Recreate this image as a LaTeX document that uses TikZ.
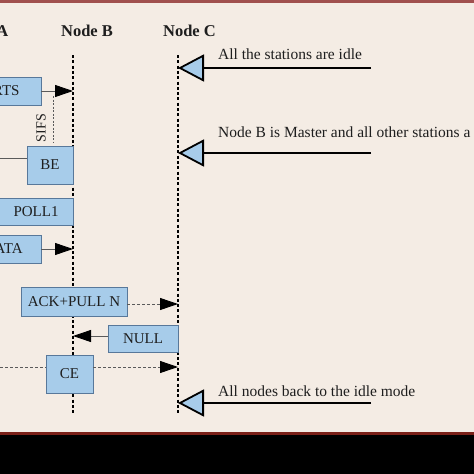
\documentclass[tikz,border=0pt]{standalone}
\usepackage{fontspec}
\setmainfont{Liberation Serif}
\usetikzlibrary{arrows.meta}
\definecolor{bgbeige}{HTML}{F4ECE4}
\definecolor{topband}{HTML}{A0504E}
\definecolor{botred}{HTML}{7A2018}
\definecolor{boxfill}{HTML}{A7CCEA}
\definecolor{boxline}{HTML}{58789A}
\definecolor{msggray}{HTML}{5A5A5A}
\definecolor{txt}{HTML}{1E1E1E}
\tikzset{
  msgbox/.style={draw=boxline, line width=0.9pt, fill=boxfill, inner sep=0pt,
    text=txt, font=\fontsize{15}{15}\selectfont},
  lifeline/.style={draw=black, line width=1.7pt, dash pattern=on 3pt off 2.3pt},
  msgline/.style={draw=msggray, line width=0.9pt},
  msgdash/.style={draw=msggray, line width=0.9pt, dash pattern=on 3pt off 2pt},
  blackhead/.style={-{Triangle[length=18pt,width=12pt,fill=black,color=black]}},
  bigarrow/.style={draw=black, line width=2pt,
    -{Triangle[length=26pt,width=27pt,fill=boxfill,color=black,line width=1.8pt]}},
  header/.style={font=\bfseries\fontsize{16.5}{16.5}\selectfont, text=txt, inner sep=0pt},
  note/.style={font=\fontsize{15.5}{15.5}\selectfont, text=txt, inner sep=0pt, anchor=base west},
}
\begin{document}
\begin{tikzpicture}[x=1pt,y=-1pt]
\useasboundingbox (0,0) rectangle (474,474);
\clip (0,0) rectangle (474,474);
% background
\fill[bgbeige] (0,0) rectangle (474,434);
\fill[topband] (0,0) rectangle (474,2.5);
\fill[botred] (0,432) rectangle (474,434.5);
\fill[black] (0,434.5) rectangle (474,474);

% headers
\node[header, anchor=base east] (hA) at (8.5,36) {Node A};
\node[header, anchor=base] (hB) at (87,36) {Node B};
\node[header, anchor=base] (hC) at (189.5,36) {Node C};

% lifelines
\coordinate (Btop) at (73,55);
\coordinate (Bbot) at (73,415);
\coordinate (Ctop) at (178,55);
\coordinate (Cbot) at (178,415);
\draw[lifeline] (Btop) -- (Bbot);
\draw[lifeline] (Ctop) -- (Cbot);

% boxes
\node[msgbox, minimum width=69.5pt, minimum height=28pt] (RTS) at (6.25,91) {RTS};
\node[msgbox, minimum width=46pt, minimum height=38pt] (BE) at (50,165) {BE};
\node[msgbox, minimum width=74pt, minimum height=27pt] (POLL) at (36,211.5) {POLL1};
\node[msgbox, minimum width=75.6pt, minimum height=28pt] (DATA) at (3.2,249) {DATA};
\node[msgbox, minimum width=106pt, minimum height=29pt] (ACK) at (74,301.5) {ACK+PULL N};
\node[msgbox, minimum width=70pt, minimum height=27pt] (NULL) at (143,338.5) {NULL};
\node[msgbox, minimum width=47pt, minimum height=38pt] (CE) at (69.5,374) {CE};

% messages
\draw[msgline, blackhead] (RTS.east) -- (RTS.east -| Btop);
\coordinate (sifsTop) at (53,96);
\coordinate (sifsBot) at (53,142);
\draw[msggray, line width=0.7pt, dash pattern=on 2pt off 1.5pt] (sifsTop) -- (sifsBot);
\node[font=\fontsize{14}{14}\selectfont, text=txt, rotate=90, inner sep=0pt] (sifs) at (41,128) {SIFS};
\coordinate (beL) at (0,158);
\draw[msgline] (beL) -- (beL -| BE.west);
\draw[msgline, blackhead] (DATA.east) -- (DATA.east -| Btop);
\draw[msgdash, blackhead] ([yshift=-2.5pt]ACK.east) -- ([yshift=-2.5pt]ACK.east -| Ctop);
\draw[msgline, blackhead] ([yshift=2.5pt]NULL.west) -- ([yshift=2.5pt]NULL.west -| Btop);
\coordinate (ceL) at (0,367);
\draw[msgdash] (ceL) -- (ceL -| CE.west);
\draw[msgdash, blackhead] (ceL -| CE.east) -- (ceL -| Ctop);

% state arrows
\coordinate (s1) at (371,68);
\coordinate (s2) at (371,153);
\coordinate (s3) at (371,403);
\draw[bigarrow] (s1) -- (s1 -| Ctop);
\draw[bigarrow] (s2) -- (s2 -| Ctop);
\draw[bigarrow] (s3) -- (s3 -| Ctop);
\node[note] (n1) at (218,59) {All the stations are idle};
\node[note] (n2) at (218,137) {Node B is Master and all other stations a};
\node[note] (n3) at (218,396) {All nodes back to the idle mode};
\end{tikzpicture}
\end{document}
